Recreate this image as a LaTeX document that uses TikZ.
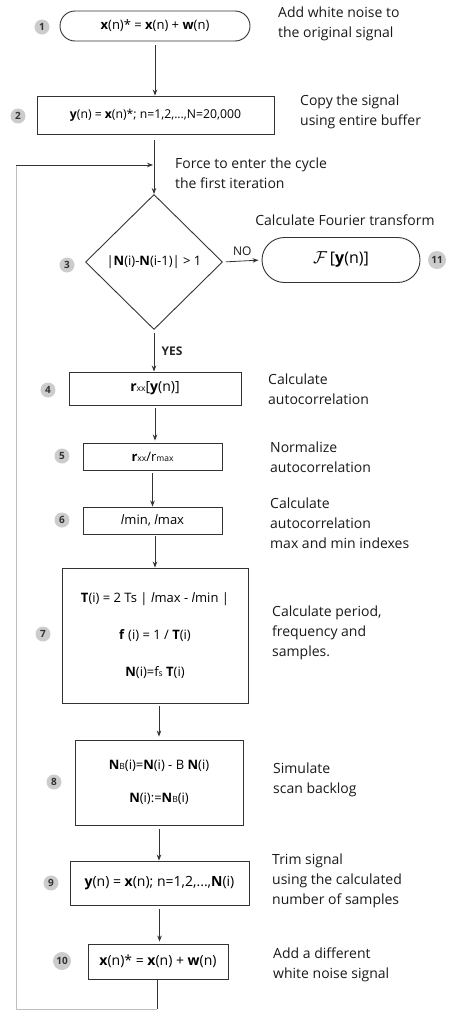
\documentclass[tikz,border=0pt]{standalone}
\usepackage{fontspec}
\setmainfont{Open Sans}
\usetikzlibrary{shapes.geometric,shapes.misc,arrows.meta}
\begin{document}
\begin{tikzpicture}[x=1pt,y=-1pt,
  box/.style={draw=black!80,line width=0.9pt,rectangle,inner sep=0pt,font=\fontsize{13}{16}\selectfont},
  stad/.style={draw=black!80,line width=0.9pt,rounded rectangle,inner sep=0pt,font=\fontsize{13}{16}\selectfont},
  num/.style={circle,fill=black!20,inner sep=0pt,minimum size=15pt,font=\fontsize{10}{10}\selectfont\bfseries,text=black!80},
  note/.style={anchor=west,align=left,inner sep=0pt,font=\fontsize{14}{20}\selectfont,text=black!90},
  arr/.style={draw=black!80,line width=0.8pt,-{Stealth[length=6pt,width=4.5pt]}},
  loopline/.style={draw=black!25,line width=0.8pt}]
\useasboundingbox (0,0) rectangle (474,1020);
\newcommand{\bx}[1]{\textbf{#1}}
\newcommand{\sbs}[1]{{\fontsize{8.5}{8.5}\selectfont #1}}

% nodes
\node[stad,minimum width=190pt,minimum height=30pt] (n1) at (155,26) {\bx{x}(n)* = \bx{x}(n) + \bx{w}(n)};
\node[box,minimum width=237pt,minimum height=38pt,font=\fontsize{12.2}{16}\selectfont] (n2) at (155.5,115) {\bx{y}(n) = \bx{x}(n)*; n=1,2,...,N=20,000};
\node[draw=black!80,line width=0.9pt,diamond,inner sep=0pt,minimum width=137pt,minimum height=135pt,font=\fontsize{13}{16}\selectfont] (n3) at (154,262) {|\bx{N}(i)-\bx{N}(i-1)| > 1};
\node[stad,minimum width=158pt,minimum height=45pt,font=\fontsize{16}{18}\selectfont] (n11) at (341,260) {$\mathcal{F}$\,[\bx{y}(n)]};
\node[box,minimum width=172pt,minimum height=33pt,font=\fontsize{14}{16}\selectfont] (n4) at (155,388.5) {\bx{r}\sbs{xx}[\bx{y}(n)]};
\node[box,minimum width=139pt,minimum height=27pt] (n5) at (152.5,456.5) {\bx{r}\sbs{xx}/r\sbs{max}};
\node[box,minimum width=139pt,minimum height=27pt] (n6) at (152.5,520.5) {\textit{l}min, \textit{l}max};
\node[box,minimum width=186pt,minimum height=135pt,align=center,font=\fontsize{13}{37}\selectfont] (n7) at (155,635.5) {\bx{T}(i) = 2 Ts | \textit{l}max - \textit{l}min |\\ \bx{f} (i) = 1 / \bx{T}(i)\\ \bx{N}(i)=f\sbs{s} \bx{T}(i)};
\node[box,minimum width=168pt,minimum height=85pt,align=center,font=\fontsize{13}{33}\selectfont] (n8) at (159,782.5) {\bx{N}\sbs{B}(i)=\bx{N}(i) - B \bx{N}(i)\\ \bx{N}(i):=\bx{N}\sbs{B}(i)};
\node[box,minimum width=179pt,minimum height=44pt,font=\fontsize{14}{16}\selectfont] (n9) at (159.5,883) {\bx{y}(n) = \bx{x}(n); n=1,2,...,\bx{N}(i)};
\node[box,minimum width=140pt,minimum height=35pt,font=\fontsize{14}{16}\selectfont] (n10) at (158,961.5) {\bx{x}(n)* = \bx{x}(n) + \bx{w}(n)};

% step numbers
\node[num] (c1) at (42,27) {1};
\node[num] (c2) at (18,116) {2};
\node[num] (c3) at (67,265) {3};
\node[num,minimum width=18pt] (c11) at (437,260) {11};
\node[num] (c4) at (48,390) {4};
\node[num] (c5) at (62,456) {5};
\node[num] (c6) at (62,520) {6};
\node[num] (c7) at (43,634) {7};
\node[num] (c8) at (54,782) {8};
\node[num] (c9) at (51,883) {9};
\node[num,minimum width=18pt] (c10) at (62,961) {10};

% notes
\node[note] (t1) at (278,24) {Add white noise to\\the original signal};
\node[note] (t2) at (300,112) {Copy the signal\\using entire buffer};
\node[note] (tf) at (175,173) {Force to enter the cycle\\the first iteration};
\node[note,anchor=center] (t11) at (345,220) {Calculate Fourier transform};
\node[note] (t4) at (268,389) {Calculate\\autocorrelation};
\node[note] (t5) at (270,457) {Normalize\\autocorrelation};
\node[note] (t6) at (270,523) {Calculate\\autocorrelation\\max and min indexes};
\node[note] (t7) at (272,633) {Calculate period,\\frequency and\\samples.};
\node[note] (t8) at (273,780) {Simulate\\scan backlog};
\node[note] (t9) at (272,881) {Trim signal\\using the calculated\\number of samples};
\node[note] (t10) at (273,965) {Add a different\\white noise signal};

% connectors
\draw[arr,shorten <=4pt] (n1.south) -- (n1.south |- n2.north);
\draw[arr,shorten <=6pt] (n2.south -| n3.north) -- (n3.north);
\draw[arr,shorten <=3pt,shorten >=3pt] (n3.east) -- (n11.west) node[midway,above=2pt,font=\fontsize{12}{12}\selectfont,text=black!90] {NO};
\draw[arr,shorten <=3pt] (n3.south) -- node[right=4pt,font=\fontsize{12}{12}\selectfont\bfseries,text=black!85] {YES} (n3.south |- n4.north);
\draw[arr,shorten <=3pt,shorten >=2pt] (n4.south) -- (n4.south |- n5.north);
\draw[arr,shorten <=3pt] (n5.south) -- (n5.south |- n6.north);
\draw[arr,shorten <=2pt] (n6.south -| n7.north) -- (n7.north);
\draw[arr,shorten <=3pt,shorten >=3pt] (n7.south -| n8.north) -- (n8.north);
\draw[arr,shorten <=4pt] (n8.south) -- (n8.south |- n9.north);
\draw[arr,shorten <=4pt,shorten >=2pt] (n9.south) -- (n9.south |- n10.north);

% loop back
\coordinate (lb) at (157,1009);
\coordinate (ll) at (16,1009);
\coordinate (lt) at (16,165);
\coordinate (lj) at (153,165);
\draw[draw=black!80,line width=0.9pt] (n10.south -| lb) -- (lb);
\draw[loopline] (lb) -- (ll) -- (lt);
\draw[arr] (lt) -- (lj);
\end{tikzpicture}
\end{document}
